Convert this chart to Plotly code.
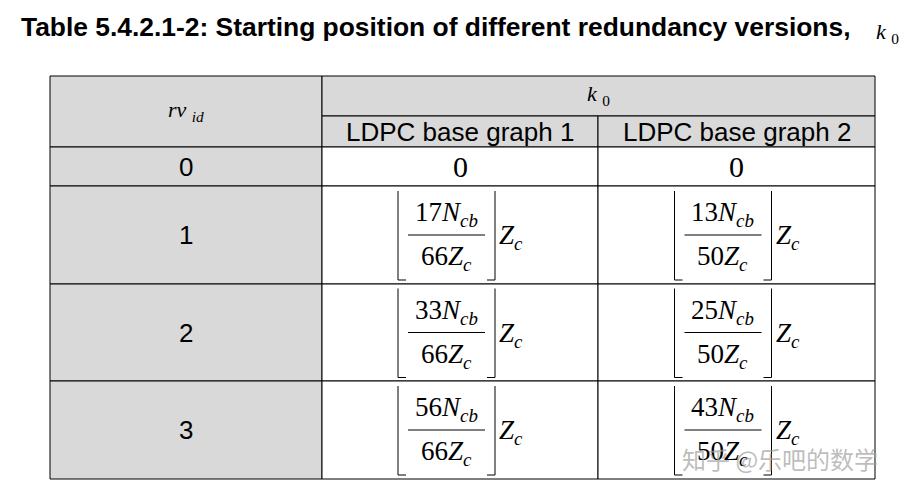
import plotly.graph_objects as go

title = "Table 5.4.2.1-2: Starting position of different redundancy versions,"
col_heads = ["LDPC base graph 1", "LDPC base graph 2"]
rv_ids = ["0", "1", "2", "3"]
bg1_num = [None, 17, 33, 56]
bg1_den = [None, 66, 66, 66]
bg2_num = [None, 13, 25, 43]
bg2_den = [None, 50, 50, 50]

W, H = 913, 494
OFF = 8  # page body margin
xs = [50, 322, 598, 875]
ys = [76, 116, 147, 186, 284, 381, 479]
grey = "#d9d9d9"
serif = "Times New Roman, Liberation Serif, serif"
sans = "Arial, Liberation Sans, sans-serif"

shapes = []
ann = []

def rect(x0, y0, x1, y1, fill):
    shapes.append(dict(type="rect", x0=x0, y0=y0, x1=x1, y1=y1, fillcolor=fill,
                       line=dict(color="black", width=1), layer="below"))

def line(x0, y0, x1, y1, w=1):
    shapes.append(dict(type="line", x0=x0, y0=y0, x1=x1, y1=y1,
                       line=dict(color="black", width=w)))

def text(x, y, s, size, font=sans, color="black", xa="center"):
    ann.append(dict(x=x, y=y, text=s, showarrow=False, xanchor=xa, yanchor="middle",
                    font=dict(family=font, size=size, color=color)))

# header cells
rect(xs[0], ys[0], xs[1], ys[2], grey)
rect(xs[1], ys[0], xs[3], ys[1], grey)
rect(xs[1], ys[1], xs[2], ys[2], grey)
rect(xs[2], ys[1], xs[3], ys[2], grey)
text((xs[0] + xs[1]) / 2, 111, "<i>rv</i> <sub><i>id</i></sub>", 22, serif)
text((xs[1] + xs[3]) / 2, 95, "<i>k</i> <sub>0</sub>", 22, serif)
for i, h in enumerate(col_heads):
    text((xs[i + 1] + xs[i + 2]) / 2, 132, h, 26)

def formula(cx, cy, num, den):
    lx, rx = cx - 62, cx + 35
    top, bot = cy - 44, cy + 45
    line(lx, top, lx, bot); line(lx, bot, lx + 8, bot)
    line(rx, top, rx, bot); line(rx, bot, rx - 8, bot)
    line(lx + 10, cy, rx - 10, cy)
    text(cx - 14, cy - 21, f"{num}<i>N</i><sub><i>cb</i></sub>", 27, serif)
    text(cx - 14, cy + 23, f"{den}<i>Z</i><sub><i>c</i></sub>", 27, serif)
    text(rx + 2, cy + 2, "<i>Z</i><sub><i>c</i></sub>", 27, serif, xa="left")

for r, rv in enumerate(rv_ids):
    y0, y1 = ys[r + 2], ys[r + 3]
    cy = (y0 + y1) / 2
    rect(xs[0], y0, xs[1], y1, grey)
    rect(xs[1], y0, xs[2], y1, "white")
    rect(xs[2], y0, xs[3], y1, "white")
    text((xs[0] + xs[1]) / 2, cy, rv, 26)
    if bg1_num[r] is None:
        text((xs[1] + xs[2]) / 2, cy, "0", 30, serif)
        text((xs[2] + xs[3]) / 2, cy, "0", 30, serif)
    else:
        formula((xs[1] + xs[2]) / 2, cy, bg1_num[r], bg1_den[r])
        formula((xs[2] + xs[3]) / 2, cy, bg2_num[r], bg2_den[r])

ann.append(dict(x=19, y=27, text="<b>" + title + "</b>", showarrow=False, xanchor="left",
                yanchor="middle", font=dict(family=sans, size=26.4, color="black")))
text(874, 33, "<i>k</i> <sub>0</sub>", 22, serif, xa="left")
text(780, 458, "知乎 @乐吧的数学", 24, "Noto Sans CJK SC", color="rgba(160,160,160,0.7)")

fig = go.Figure()
fig.update_layout(width=W - OFF, height=H - OFF, margin=dict(l=0, r=0, t=0, b=0),
                  paper_bgcolor="white", plot_bgcolor="white",
                  xaxis=dict(range=[OFF, W], visible=False, fixedrange=True),
                  yaxis=dict(range=[H, OFF], visible=False, fixedrange=True),
                  shapes=shapes, annotations=ann, showlegend=False)
fig.write_html("out.html")
